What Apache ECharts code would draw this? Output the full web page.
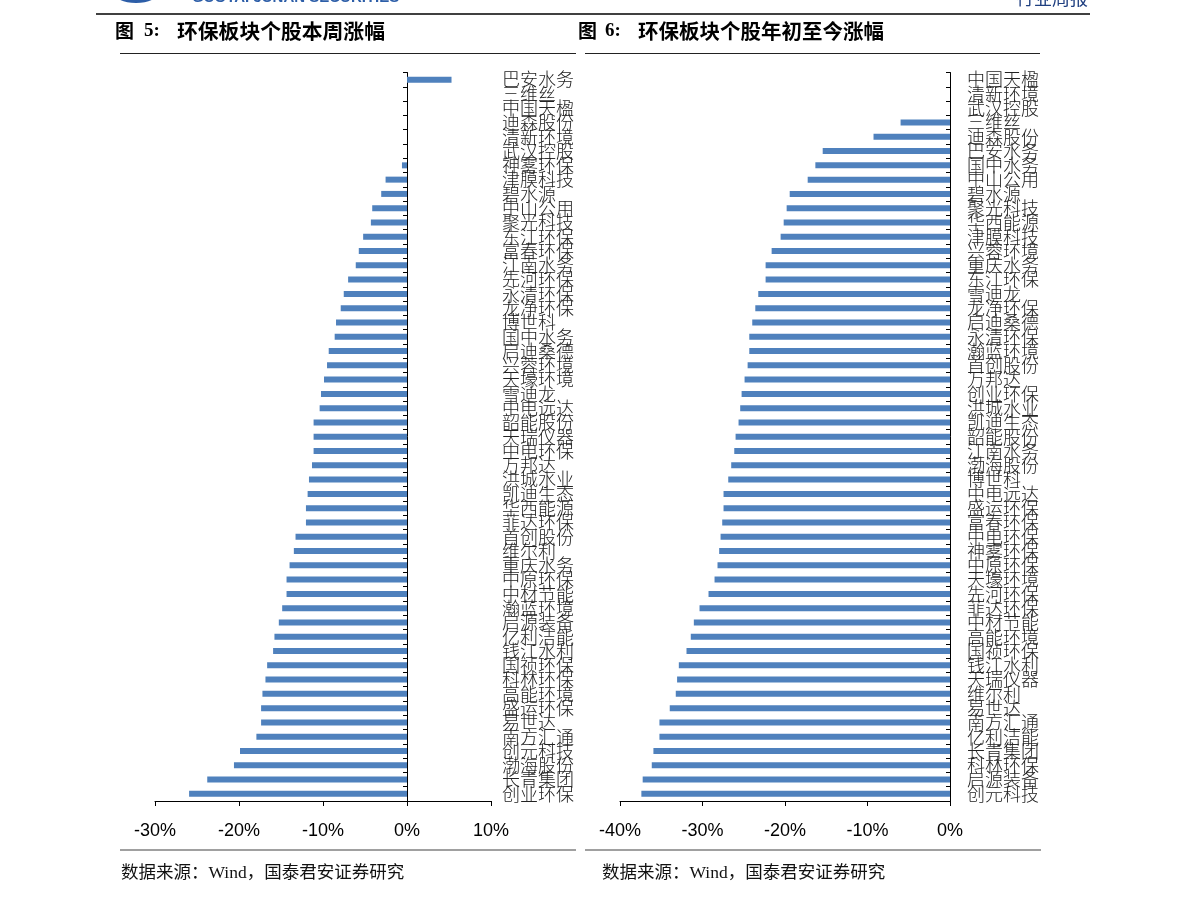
<!DOCTYPE html>
<html>
<head>
<meta charset="utf-8">
<script src="https://cdn.jsdelivr.net/npm/echarts@6/dist/echarts.min.js"></script>
<style>
html,body{margin:0;padding:0;background:#fff;}
#main{width:1191px;height:903px;}
</style>
</head>
<body>
<div id="main"></div>
<script>
// Figure 5: weekly change (%)
var names5 = ['巴安水务','三维丝','中国天楹','迪森股份','清新环境','武汉控股','神雾环保','津膜科技','碧水源','中山公用',
  '聚光科技','东江环保','富春环保','江南水务','先河环保','永清环保','龙净环保','博世科','国中水务','启迪桑德',
  '兴蓉环境','天壕环境','雪迪龙','中电远达','韶能股份','天瑞仪器','中电环保','万邦达','洪城水业','凯迪生态',
  '华西能源','菲达环保','首创股份','维尔利','重庆水务','中原环保','中材节能','瀚蓝环境','启源装备','亿利洁能',
  '钱江水利','国祯环保','科林环保','高能环境','盛运环保','易世达','南方汇通','创元科技','渤海股份','长青集团','创业环保'];
var values5 = [5.3,0,0,0,0,0,-0.6,-2.55,-3.07,-4.14,
  -4.30,-5.22,-5.74,-6.10,-7.01,-7.53,-7.89,-8.45,-8.61,-9.32,
  -9.52,-9.88,-10.24,-10.40,-11.12,-11.12,-11.12,-11.31,-11.67,-11.83,
  -12.03,-12.03,-13.27,-13.47,-13.98,-14.34,-14.34,-14.86,-15.26,-15.78,
  -15.94,-16.65,-16.85,-17.21,-17.37,-17.37,-17.93,-19.88,-20.60,-23.78,-25.94];

// Figure 6: year-to-date change (%)
var names6 = ['中国天楹','清新环境','武汉控股','三维丝','迪森股份','巴安水务','国中水务','中山公用','碧水源','聚光科技',
  '华西能源','津膜科技','兴蓉环境','重庆水务','东江环保','雪迪龙','龙净环保','启迪桑德','永清环保','瀚蓝环境',
  '首创股份','万邦达','创业环保','洪城水业','凯迪生态','韶能股份','江南水务','渤海股份','博世科','中电远达',
  '盛运环保','富春环保','中电环保','神雾环保','中原环保','天壕环境','先河环保','菲达环保','中材节能','高能环境',
  '国祯环保','钱江水利','天瑞仪器','维尔利','易世达','南方汇通','亿利洁能','长青集团','科林环保','启源装备','创元科技'];
var values6 = [0,0,0,-5.99,-9.27,-15.43,-16.32,-17.25,-19.43,-19.80,
  -20.16,-20.53,-21.62,-22.35,-22.35,-23.24,-23.60,-23.97,-24.33,-24.33,
  -24.53,-24.90,-25.26,-25.43,-25.63,-25.99,-26.15,-26.52,-26.88,-27.45,
  -27.45,-27.61,-27.81,-27.98,-28.18,-28.54,-29.27,-30.36,-31.05,-31.42,
  -31.94,-32.87,-33.08,-33.24,-33.97,-35.22,-35.22,-35.95,-36.15,-37.25,-37.41];

var title5 = '环保板块个股本周涨幅';
var title6 = '环保板块个股年初至今涨幅';
var sourceText = '数据来源：Wind，国泰君安证券研究';

var CJK = 'Noto Sans CJK SC';
var barColor = '#4F81BD';

function yAxisCfg(grid, names, margin) {
  return {
    gridIndex: grid, type: 'category', data: names, inverse: true, position: 'right',
    axisLine: {show: true, onZero: true, lineStyle: {color: '#000', width: 1}},
    axisTick: {show: true, inside: true, length: 4, lineStyle: {color: '#000'}},
    splitLine: {show: false},
    axisLabel: {interval: 0, margin: margin, align: 'left', fontSize: 18, color: '#222',
      fontFamily: CJK, fontWeight: 300}
  };
}
function xAxisCfg(grid, min, max) {
  return {
    gridIndex: grid, type: 'value', min: min, max: max, interval: 10, position: 'bottom',
    axisLine: {show: true, onZero: false, lineStyle: {color: '#000', width: 1}},
    axisTick: {show: true, length: 5, lineStyle: {color: '#000'}},
    splitLine: {show: false},
    axisLabel: {formatter: '{value}%', margin: 21, fontSize: 18, color: '#000', fontFamily: 'Liberation Sans'}
  };
}

var chart = echarts.init(document.getElementById('main'), null, {renderer: 'canvas'});
chart.setOption({
  backgroundColor: '#fff',
  animation: false,
  grid: [
    {left: 155, top: 72.5, width: 336, height: 728.5},
    {left: 620, top: 72.5, width: 330, height: 728.5}
  ],
  xAxis: [xAxisCfg(0, -30, 10), xAxisCfg(1, -40, 0)],
  yAxis: [yAxisCfg(0, names5, 11), yAxisCfg(1, names6, 17)],
  series: [
    {type: 'bar', xAxisIndex: 0, yAxisIndex: 0, data: values5, barWidth: 6, itemStyle: {color: barColor}},
    {type: 'bar', xAxisIndex: 1, yAxisIndex: 1, data: values6, barWidth: 6, itemStyle: {color: barColor}}
  ],
  graphic: [
    // header (cut off at top)
    {type: 'ellipse', shape: {cx: 136, cy: -7, rx: 22, ry: 10}, style: {fill: '#2d5ea8'}},
    {type: 'text', style: {text: 'GUOTAI JUNAN SECURITIES', x: 192, y: -2, fontSize: 15, fontWeight: 'bold',
      fontFamily: 'Liberation Sans', fill: '#2d5ea8', verticalAlign: 'middle'}},
    {type: 'text', style: {text: '行业周报', x: 1088, y: -2, fontSize: 18, fontFamily: CJK,
      fill: '#1f3f80', textAlign: 'right', verticalAlign: 'middle'}},
    {type: 'line', shape: {x1: 96, y1: 14, x2: 1090, y2: 14}, style: {stroke: '#000', lineWidth: 1.5}},
    // titles
    {type: 'text', style: {text: '图', x: 115, y: 31, fontSize: 19, fontWeight: 'bold', fontFamily: CJK, fill: '#000', verticalAlign: 'middle'}},
    {type: 'text', style: {text: '5:', x: 144, y: 31, fontSize: 19, fontWeight: 'bold', fontFamily: 'Liberation Serif', fill: '#000', verticalAlign: 'middle'}},
    {type: 'text', style: {text: title5, x: 177, y: 31, fontSize: 20.8, fontWeight: 'bold', fontFamily: CJK, fill: '#000', verticalAlign: 'middle'}},
    {type: 'text', style: {text: '图', x: 578, y: 31, fontSize: 19, fontWeight: 'bold', fontFamily: CJK, fill: '#000', verticalAlign: 'middle'}},
    {type: 'text', style: {text: '6:', x: 605, y: 31, fontSize: 19, fontWeight: 'bold', fontFamily: 'Liberation Serif', fill: '#000', verticalAlign: 'middle'}},
    {type: 'text', style: {text: title6, x: 638, y: 31, fontSize: 20.5, fontWeight: 'bold', fontFamily: CJK, fill: '#000', verticalAlign: 'middle'}},
    // title underlines
    {type: 'line', shape: {x1: 120, y1: 53.5, x2: 576, y2: 53.5}, style: {stroke: '#222', lineWidth: 1}},
    {type: 'line', shape: {x1: 585, y1: 53.5, x2: 1040, y2: 53.5}, style: {stroke: '#222', lineWidth: 1}},
    // bottom lines
    {type: 'line', shape: {x1: 120, y1: 850, x2: 576, y2: 850}, style: {stroke: '#808080', lineWidth: 1.5}},
    {type: 'line', shape: {x1: 585, y1: 850, x2: 1041, y2: 850}, style: {stroke: '#808080', lineWidth: 1.5}},
    // sources
    {type: 'text', style: {text: sourceText, x: 121, y: 873, fontSize: 17.5, fontFamily: 'Liberation Serif, ' + CJK, fill: '#111', verticalAlign: 'middle'}},
    {type: 'text', style: {text: sourceText, x: 602, y: 873, fontSize: 17.5, fontFamily: 'Liberation Serif, ' + CJK, fill: '#111', verticalAlign: 'middle'}}
  ]
});
</script>
</body>
</html>
